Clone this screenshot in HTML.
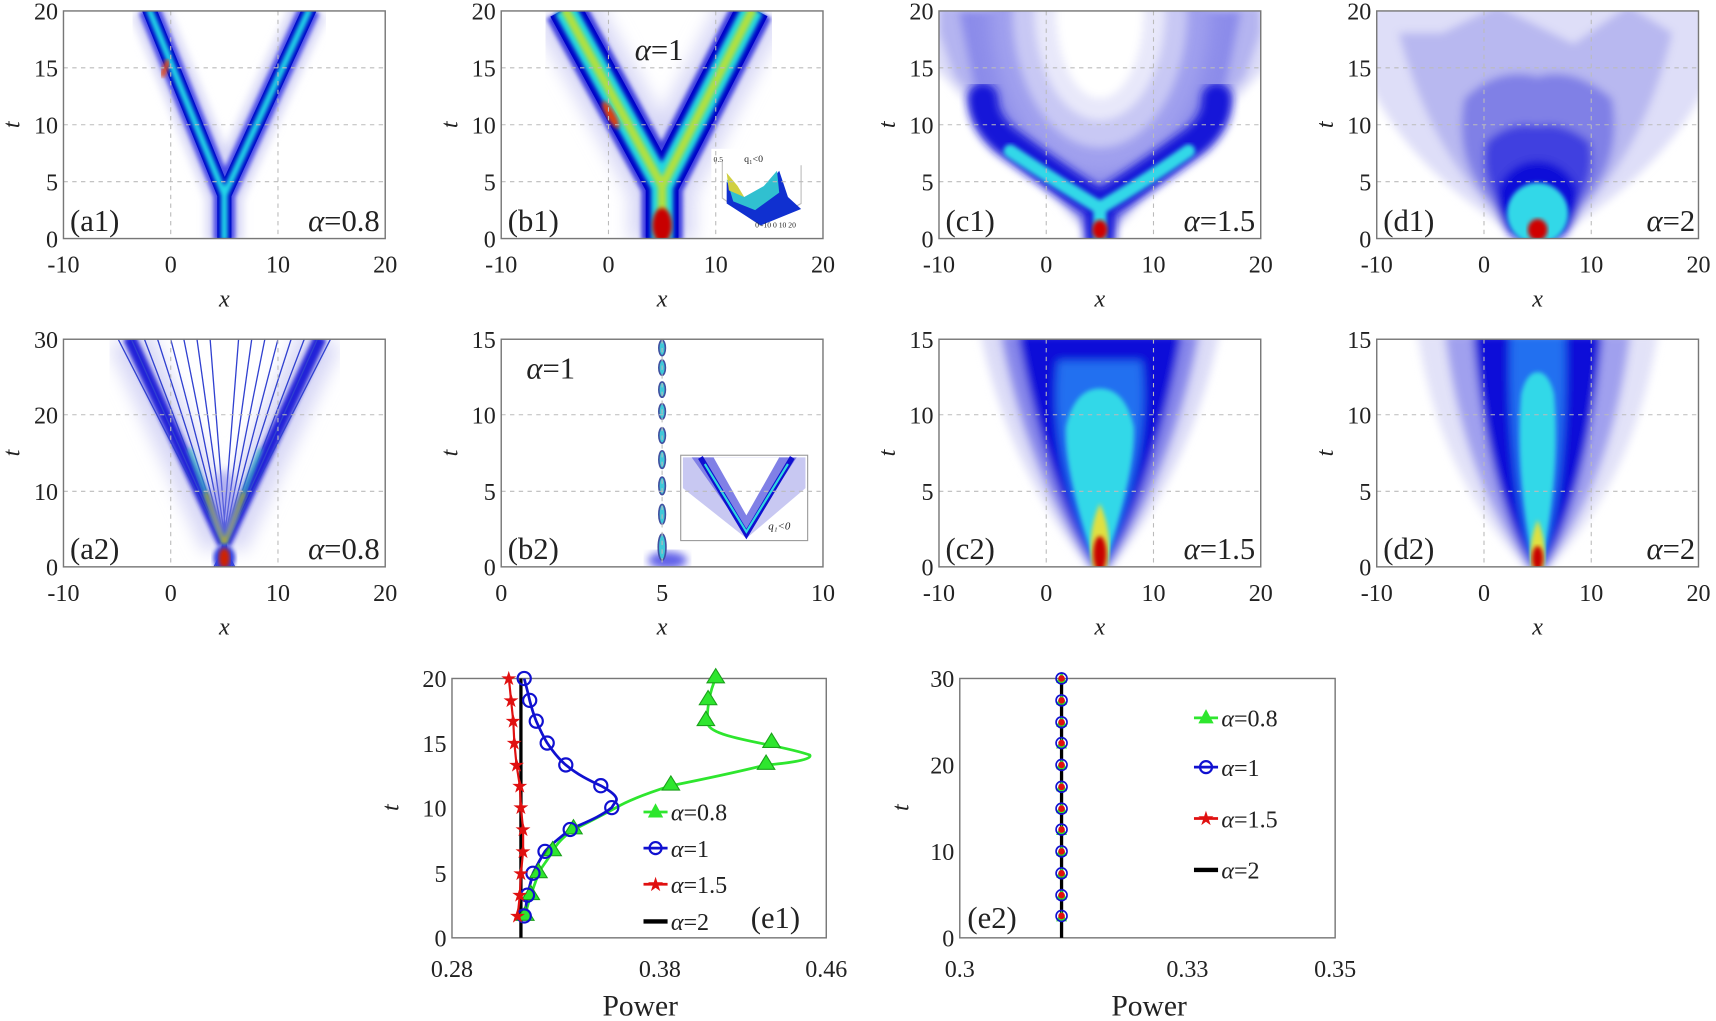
<!DOCTYPE html>
<html><head><meta charset="utf-8"><style>
html,body{margin:0;padding:0;background:#fff;}
svg{display:block;font-family:"Liberation Serif","DejaVu Serif",serif;}
svg text{font-family:"Liberation Serif","DejaVu Serif",serif;}
.tk{font-size:22px;}
.lab{font-size:28px;}
.it{font-style:italic;}
</style></head><body>
<svg width="1716" height="1021" viewBox="0 0 1568 933" preserveAspectRatio="none" xmlns="http://www.w3.org/2000/svg" font-family="Liberation Serif, DejaVu Serif, serif" fill="#222">
<defs>
<clipPath id="cp"><rect x="0" y="0" width="294" height="208"/></clipPath>
<clipPath id="ce"><rect x="0" y="0" width="342" height="237"/></clipPath>
<filter id="b2"><feGaussianBlur stdDeviation="2"/></filter>
<filter id="b4"><feGaussianBlur stdDeviation="4"/></filter>
<filter id="b8"><feGaussianBlur stdDeviation="8"/></filter>
</defs>

<g transform="translate(58,10)">
 <g clip-path="url(#cp)">
  <g fill="none" stroke-linejoin="round">
   <path d="M147,210 L147,168 L78,-2 M147,168 L225,-2" stroke="#d8d8f6" stroke-width="34" filter="url(#b4)"/>
   <path d="M147,210 L147,168 L78,-2 M147,168 L225,-2" stroke="#5050e8" stroke-width="20" filter="url(#b2)"/>
   <path d="M147,210 L147,168 L78,-2 M147,168 L225,-2" stroke="#0000c8" stroke-width="13"/>
   <path d="M147,210 L147,168 L78,-2 M147,168 L225,-2" stroke="#20d8e8" stroke-width="6" filter="url(#b2)"/>
   <path d="M147,210 L147,185" stroke="#e0e040" stroke-width="6" filter="url(#b2)"/>
   <path d="M96,45 L90,60" stroke="#e05020" stroke-width="5" filter="url(#b2)"/>
  </g>
 </g>
</g>

<g transform="translate(458,10)">
 <g clip-path="url(#cp)">
  <g fill="none" stroke-linejoin="round">
   <path d="M147,210 L147,160 L58,-2 M147,160 L230,-2" stroke="#d8d8f6" stroke-width="60" filter="url(#b8)"/>
   <path d="M147,210 L147,160 L58,-2 M147,160 L230,-2" stroke="#4040e0" stroke-width="38" filter="url(#b2)"/>
   <path d="M147,210 L147,160 L58,-2 M147,160 L230,-2" stroke="#0000c8" stroke-width="30"/>
   <path d="M147,210 L147,160 L58,-2 M147,160 L230,-2" stroke="#20d8e0" stroke-width="20" filter="url(#b2)"/>
   <path d="M147,210 L147,160 L58,-2 M147,160 L230,-2" stroke="#b0e040" stroke-width="8" filter="url(#b2)"/>
  </g>
  <ellipse cx="147" cy="196" rx="9" ry="16" fill="#c80000" filter="url(#b2)"/>
  <ellipse cx="100" cy="95" rx="4" ry="14" fill="#e04010" transform="rotate(-30 100 95)" filter="url(#b2)"/>
 </g>
 <g transform="translate(192,126)">
  <rect x="0" y="0" width="90" height="74" fill="#fff"/>
  <polyline points="10,12 10,45 45,70 82,50 82,15" fill="none" stroke="#bbb"/>
  <polygon points="14,30 30,48 48,38 62,20 70,44 82,55 45,70 14,50" fill="#1030d0"/>
  <polygon points="14,28 30,44 48,34 60,20 62,40 40,56 20,48" fill="#30c0d0"/>
  <polygon points="14,22 24,34 30,44 16,38" fill="#d0d040"/>
  <text x="30" y="12" style="font-size:9px">q₁&lt;0</text>
  <text x="2" y="12" style="font-size:7px">0.5</text>
  <text x="40" y="72" style="font-size:7px">0 -10  0  10  20</text>
 </g>
</g>

<g transform="translate(858,10)">
 <g clip-path="url(#cp)">
  <g filter="url(#b4)">
  <polygon points="140,210 154,210 300,50 300,-5 -5,-5 -5,50" fill="#dcdcf7"/>
  <polygon points="140,205 154,205 280,60 294,20 294,-5 0,-5 0,20 14,60" fill="#b4b4f0"/>
  <polygon points="140,205 154,205 262,70 276,0 18,0 32,70" fill="#8c8cea"/>
  </g>
  <ellipse cx="147" cy="0" rx="100" ry="150" fill="#a0a0ee" filter="url(#b8)"/>
  <ellipse cx="147" cy="0" rx="80" ry="125" fill="#c8c8f4" filter="url(#b4)"/>
  <ellipse cx="147" cy="0" rx="60" ry="100" fill="#e8e8fa" filter="url(#b4)"/>
  <ellipse cx="147" cy="0" rx="40" ry="80" fill="#ffffff" filter="url(#b4)"/>
  <g fill="none" stroke-linecap="round" stroke-linejoin="round">
   <path d="M147,210 L147,178 Q110,155 60,118 Q40,100 40,80 M147,178 Q185,155 235,118 Q255,100 254,80" stroke="#1818d8" stroke-width="28" filter="url(#b4)"/>
   <path d="M147,210 L147,180 Q110,158 65,128 M147,180 Q185,158 228,128" stroke="#30d8e8" stroke-width="12" filter="url(#b2)"/>
  </g>
  <ellipse cx="147" cy="200" rx="7" ry="9" fill="#d00000" filter="url(#b2)"/>
 </g>
</g>

<g transform="translate(1258,10)">
 <g clip-path="url(#cp)">
  <g filter="url(#b4)">
  <path d="M140,212 L154,212 Q260,150 300,70 L300,-5 L-5,-5 L-5,70 Q34,150 140,212Z" fill="#dedef8"/>
  <path d="M140,212 L154,212 Q240,150 270,20 L230,-5 L180,30 L110,-5 L60,20 L20,20 Q54,150 140,212Z" fill="#b8b8f0"/>
  <path d="M147,210 Q230,160 215,80 Q180,50 147,60 Q110,50 80,80 Q64,160 147,210Z" fill="#8080e6"/>
  <path d="M147,210 Q205,170 195,120 Q170,100 147,105 Q120,100 100,120 Q90,170 147,210Z" fill="#4040e0"/>
  <ellipse cx="147" cy="175" rx="38" ry="38" fill="#1010d8"/>
  </g>
  <ellipse cx="147" cy="185" rx="28" ry="28" fill="#30d8e8" filter="url(#b2)"/>
  <ellipse cx="147" cy="200" rx="9" ry="10" fill="#d00000" filter="url(#b2)"/>
 </g>
</g>

<g transform="translate(58,310)">
 <g clip-path="url(#cp)">
  <g fill="none" stroke-linejoin="round">
   <path d="M147,187 L60,-2 M147,187 L235,-2" stroke="#d8d8f6" stroke-width="40" filter="url(#b8)"/>
   <path d="M147,187 L60,-2 M147,187 L235,-2" stroke="#2020d8" stroke-width="12" filter="url(#b2)"/>
   <g stroke="#3040d0" stroke-width="1.2">
    <path d="M160,215 L50,0"/><path d="M158,215 L62,0"/><path d="M156,215 L74,0"/><path d="M155,215 L86,0"/><path d="M154,215 L98,0"/><path d="M153,215 L110,0"/><path d="M152,215 L122,0"/><path d="M151,215 L134,0"/>
    <path d="M134,215 L244,0"/><path d="M136,215 L232,0"/><path d="M138,215 L220,0"/><path d="M139,215 L208,0"/><path d="M140,215 L196,0"/><path d="M141,215 L184,0"/><path d="M142,215 L172,0"/><path d="M143,215 L160,0"/>
   </g>
   <path d="M147,187 L115,100 M147,187 L180,100" stroke="#30c0c0" stroke-width="3" filter="url(#b2)"/>
   <path d="M147,187 L130,140 M147,187 L165,140" stroke="#c0a020" stroke-width="3" filter="url(#b2)"/>
  </g>
  <ellipse cx="147" cy="150" rx="12" ry="30" fill="#8080e8" opacity="0.5" filter="url(#b4)"/>
  <ellipse cx="147" cy="200" rx="10" ry="12" fill="#3040e0" filter="url(#b2)"/>
  <ellipse cx="147" cy="200" rx="5" ry="9" fill="#d02000" filter="url(#b2)"/>
 </g>
</g>

<g transform="translate(458,310)">
 <g clip-path="url(#cp)">
  <ellipse cx="152" cy="202" rx="18" ry="8" fill="#6060e8" filter="url(#b4)"/>
  <g fill="#40c8d8" stroke="#4050a0" stroke-width="1.5">
   <ellipse cx="147" cy="190" rx="3.5" ry="12"/>
   <ellipse cx="147" cy="160" rx="3" ry="9"/>
   <ellipse cx="147" cy="134" rx="3" ry="8"/>
   <ellipse cx="147" cy="110" rx="3" ry="8"/>
   <ellipse cx="147" cy="88" rx="3" ry="7"/>
   <ellipse cx="147" cy="66" rx="3" ry="7"/>
   <ellipse cx="147" cy="46" rx="3" ry="7"/>
   <ellipse cx="147" cy="26" rx="3" ry="7"/>
   <ellipse cx="147" cy="8" rx="3" ry="7"/>
  </g>
 </g>
 <g transform="translate(164,106)">
  <rect x="0" y="0" width="116" height="78" fill="#fff" stroke="#999"/>
  <polygon points="2,2 114,2 114,30 60,76 2,30" fill="#c8c8f2"/>
  <polygon points="10,2 106,2 60,72" fill="#8080e6"/>
  <path d="M18,2 L60,72 L102,2" fill="none" stroke="#1010d0" stroke-width="5"/>
  <path d="M22,8 L60,70 L98,8" fill="none" stroke="#30d8e0" stroke-width="2"/>
  <polygon points="30,2 90,2 60,55" fill="#ffffff"/>
  <text x="80" y="68" style="font-size:10px" class="it">q₁&lt;0</text>
 </g>
</g>

<g transform="translate(858,310)">
 <g clip-path="url(#cp)">
  <g filter="url(#b4)">
   <path d="M138,210 L156,210 Q230,120 256,-5 L38,-5 Q64,120 138,210Z" fill="#dcdcf7"/>
   <path d="M140,210 L154,210 Q215,120 238,-5 L56,-5 Q79,120 140,210Z" fill="#8888ea"/>
   <path d="M141,210 L153,210 Q200,120 222,-5 L72,-5 Q94,120 141,210Z" fill="#0808d8"/>
   <path d="M143,210 L151,210 Q195,100 185,20 L109,20 Q99,100 143,210Z" fill="#2070f0"/>
  </g>
  <path d="M144,210 L150,210 Q180,120 178,80 Q170,45 147,45 Q124,45 116,80 Q114,120 144,210Z" fill="#30d8e8" filter="url(#b2)"/>
  <path d="M147,150 Q160,180 153,210 L141,210 Q134,180 147,150Z" fill="#e0e040" filter="url(#b2)"/>
  <ellipse cx="147" cy="196" rx="6" ry="16" fill="#c80000" filter="url(#b2)"/>
 </g>
</g>

<g transform="translate(1258,310)">
 <g clip-path="url(#cp)">
  <g filter="url(#b4)">
   <path d="M138,210 L156,210 Q235,130 257,-5 L37,-5 Q59,130 138,210Z" fill="#e2e2f8"/>
   <path d="M140,210 L154,210 Q215,130 232,-5 L62,-5 Q79,130 140,210Z" fill="#a0a0ee"/>
   <path d="M141,210 L153,210 Q195,130 206,-5 L88,-5 Q99,130 141,210Z" fill="#0a10d8"/>
   <path d="M143,210 L151,210 Q175,120 172,-5 L122,-5 Q119,120 143,210Z" fill="#2070f0"/>
  </g>
  <path d="M144,210 L150,210 Q168,120 162,50 Q157,30 147,30 Q137,30 132,50 Q126,120 144,210Z" fill="#30d8e8" filter="url(#b2)"/>
  <path d="M147,165 Q157,190 152,210 L142,210 Q137,190 147,165Z" fill="#e0e040" filter="url(#b2)"/>
  <ellipse cx="147" cy="200" rx="5" ry="11" fill="#c80000" filter="url(#b2)"/>
 </g>
</g>

<g fill="none" stroke="#bbb" stroke-width="1" stroke-dasharray="4,4">
 <path d="M156,10V218M254,10V218M58,62H352M58,114H352M58,166H352"/>
 <path d="M556,10V218M654,10V218M458,62H752M458,114H752M458,166H752"/>
 <path d="M956,10V218M1054,10V218M858,62H1152M858,114H1152M858,166H1152"/>
 <path d="M1356,10V218M1454,10V218M1258,62H1552M1258,114H1552M1258,166H1552"/>
 <path d="M156,310V518M254,310V518M58,379H352M58,449H352"/>
 <path d="M605,310V518M458,379H752M458,449H752"/>
 <path d="M956,310V518M1054,310V518M858,379H1152M858,449H1152"/>
 <path d="M1356,310V518M1454,310V518M1258,379H1552M1258,449H1552"/>
</g>
<g fill="none" stroke="#777" stroke-width="1.3">
 <rect x="58" y="10" width="294" height="208"/><rect x="458" y="10" width="294" height="208"/>
 <rect x="858" y="10" width="294" height="208"/><rect x="1258" y="10" width="294" height="208"/>
 <rect x="58" y="310" width="294" height="208"/><rect x="458" y="310" width="294" height="208"/>
 <rect x="858" y="310" width="294" height="208"/><rect x="1258" y="310" width="294" height="208"/>
 <rect x="413" y="620" width="342" height="237"/><rect x="877" y="620" width="343" height="237"/>
</g>

<g class="tk" text-anchor="middle">
 <text x="58" y="249">-10</text><text x="156" y="249">0</text><text x="254" y="249">10</text><text x="352" y="249">20</text>
 <text x="458" y="249">-10</text><text x="556" y="249">0</text><text x="654" y="249">10</text><text x="752" y="249">20</text>
 <text x="858" y="249">-10</text><text x="956" y="249">0</text><text x="1054" y="249">10</text><text x="1152" y="249">20</text>
 <text x="1258" y="249">-10</text><text x="1356" y="249">0</text><text x="1454" y="249">10</text><text x="1552" y="249">20</text>
 <text x="58" y="549">-10</text><text x="156" y="549">0</text><text x="254" y="549">10</text><text x="352" y="549">20</text>
 <text x="458" y="549">0</text><text x="605" y="549">5</text><text x="752" y="549">10</text>
 <text x="858" y="549">-10</text><text x="956" y="549">0</text><text x="1054" y="549">10</text><text x="1152" y="549">20</text>
 <text x="1258" y="549">-10</text><text x="1356" y="549">0</text><text x="1454" y="549">10</text><text x="1552" y="549">20</text>
 <text x="413" y="893">0.28</text><text x="603" y="893">0.38</text><text x="755" y="893">0.46</text>
 <text x="877" y="893">0.3</text><text x="1085" y="893">0.33</text><text x="1220" y="893">0.35</text>
</g>
<g class="tk it" text-anchor="middle">
 <text x="205" y="280">x</text><text x="605" y="280">x</text><text x="1005" y="280">x</text><text x="1405" y="280">x</text>
 <text x="205" y="580">x</text><text x="605" y="580">x</text><text x="1005" y="580">x</text><text x="1405" y="580">x</text>
</g>
<g class="tk" text-anchor="middle" style="font-size:27px">
 <text x="585" y="928">Power</text><text x="1050" y="928">Power</text>
</g>
<g class="tk" text-anchor="end">
 <text x="53" y="18">20</text><text x="53" y="70">15</text><text x="53" y="122">10</text><text x="53" y="174">5</text><text x="53" y="226">0</text>
 <text x="453" y="18">20</text><text x="453" y="70">15</text><text x="453" y="122">10</text><text x="453" y="174">5</text><text x="453" y="226">0</text>
 <text x="853" y="18">20</text><text x="853" y="70">15</text><text x="853" y="122">10</text><text x="853" y="174">5</text><text x="853" y="226">0</text>
 <text x="1253" y="18">20</text><text x="1253" y="70">15</text><text x="1253" y="122">10</text><text x="1253" y="174">5</text><text x="1253" y="226">0</text>
 <text x="53" y="318">30</text><text x="53" y="387">20</text><text x="53" y="457">10</text><text x="53" y="526">0</text>
 <text x="453" y="318">15</text><text x="453" y="387">10</text><text x="453" y="457">5</text><text x="453" y="526">0</text>
 <text x="853" y="318">15</text><text x="853" y="387">10</text><text x="853" y="457">5</text><text x="853" y="526">0</text>
 <text x="1253" y="318">15</text><text x="1253" y="387">10</text><text x="1253" y="457">5</text><text x="1253" y="526">0</text>
 <text x="408" y="628">20</text><text x="408" y="687">15</text><text x="408" y="746">10</text><text x="408" y="806">5</text><text x="408" y="865">0</text>
 <text x="872" y="628">30</text><text x="872" y="707">20</text><text x="872" y="786">10</text><text x="872" y="865">0</text>
</g>
<g class="tk it" text-anchor="middle">
 <text transform="translate(18,114) rotate(-90)">t</text><text transform="translate(418,114) rotate(-90)">t</text>
 <text transform="translate(818,114) rotate(-90)">t</text><text transform="translate(1218,114) rotate(-90)">t</text>
 <text transform="translate(18,414) rotate(-90)">t</text><text transform="translate(418,414) rotate(-90)">t</text>
 <text transform="translate(818,414) rotate(-90)">t</text><text transform="translate(1218,414) rotate(-90)">t</text>
 <text transform="translate(364,738) rotate(-90)">t</text><text transform="translate(830,738) rotate(-90)">t</text>
</g>

<g class="lab">
 <text x="64" y="211">(a1)</text><text x="464" y="211">(b1)</text><text x="864" y="211">(c1)</text><text x="1264" y="211">(d1)</text>
 <text x="64" y="511">(a2)</text><text x="464" y="511">(b2)</text><text x="864" y="511">(c2)</text><text x="1264" y="511">(d2)</text>
 <text x="686" y="848">(e1)</text><text x="884" y="848">(e2)</text>
</g>
<g class="lab" text-anchor="end">
 <text x="347" y="211"><tspan class="it">α</tspan>=0.8</text>
 <text x="1147" y="211"><tspan class="it">α</tspan>=1.5</text>
 <text x="1549" y="211"><tspan class="it">α</tspan>=2</text>
 <text x="347" y="511"><tspan class="it">α</tspan>=0.8</text>
 <text x="1147" y="511"><tspan class="it">α</tspan>=1.5</text>
 <text x="1549" y="511"><tspan class="it">α</tspan>=2</text>
</g>
<g class="lab">
 <text x="580" y="55"><tspan class="it">α</tspan>=1</text>
 <text x="481" y="346"><tspan class="it">α</tspan>=1</text>
</g>

<g transform="translate(413,620)">
 <g clip-path="url(#ce)">
 <path d="M63,0V237" stroke="#000" stroke-width="3"/>
 <path d="M241,0 C236,10 232,30 234,42 C238,55 300,60 327,70 C330,75 300,78 287,79 C250,88 215,95 200,98 C175,106 160,112 150,118 C135,126 120,134 111,138 C100,146 95,152 92,158 C86,168 82,172 79,178 C75,190 73,195 72,198 C69,208 67,215 67,217" fill="none" stroke="#2ee62e" stroke-width="2.5"/>
 <path d="M66,0 C68,8 70,15 71,20 C73,28 75,34 77,39 C81,48 84,54 87,59 C93,68 98,74 104,79 C115,88 125,93 136,98 C145,103 152,108 150,112 C147,116 146,118 146,118 C135,127 118,133 108,138 C98,146 90,152 85,158 C80,166 77,172 74,178 C72,186 70,193 69,198 C68,206 67,212 66,217" fill="none" stroke="#1010d0" stroke-width="2.5"/>
 <path d="M52,0 L54,20 L56,39 L57,59 L59,79 L62,98 L63,118 L65,138 L65,158 L63,178 L62,198 L60,217" fill="none" stroke="#e01010" stroke-width="2"/>
 </g>
 <g fill="#2ee62e" stroke="#1aa01a" stroke-width="1">
  <polygon points="241,-9 233,4 249,4"/><polygon points="234,11 226,24 242,24"/><polygon points="232,30 224,43 240,43"/>
  <polygon points="292,50 284,63 300,63"/><polygon points="287,70 279,83 295,83"/><polygon points="200,89 192,102 208,102"/>
  <polygon points="111,129 103,142 119,142"/><polygon points="92,149 84,162 100,162"/><polygon points="79,169 71,182 87,182"/>
  <polygon points="72,189 64,202 80,202"/><polygon points="67,208 59,221 75,221"/>
 </g>
 <g fill="none" stroke="#1010d0" stroke-width="2">
  <circle cx="66" cy="0" r="6"/><circle cx="71" cy="20" r="6"/><circle cx="77" cy="39" r="6"/><circle cx="87" cy="59" r="6"/>
  <circle cx="104" cy="79" r="6"/><circle cx="136" cy="98" r="6"/><circle cx="146" cy="118" r="6"/><circle cx="108" cy="138" r="6"/>
  <circle cx="85" cy="158" r="6"/><circle cx="74" cy="178" r="6"/><circle cx="69" cy="198" r="6"/><circle cx="66" cy="217" r="6"/>
 </g>
 <g font-size="18" text-anchor="middle" style="font-family:'DejaVu Sans',sans-serif;fill:#e01010">
  <text x="52" y="6" style="fill:#e01010">★</text><text x="54" y="26" style="fill:#e01010">★</text><text x="56" y="45" style="fill:#e01010">★</text>
  <text x="57" y="65" style="fill:#e01010">★</text><text x="59" y="85" style="fill:#e01010">★</text><text x="62" y="104" style="fill:#e01010">★</text>
  <text x="63" y="124" style="fill:#e01010">★</text><text x="65" y="144" style="fill:#e01010">★</text><text x="65" y="164" style="fill:#e01010">★</text>
  <text x="63" y="184" style="fill:#e01010">★</text><text x="62" y="204" style="fill:#e01010">★</text><text x="60" y="223" style="fill:#e01010">★</text>
 </g>
 <g>
  <path d="M175,122H197" stroke="#2ee62e" stroke-width="2.5"/><polygon points="186,114 179,127 193,127" fill="#2ee62e"/>
  <path d="M175,155H197" stroke="#1010d0" stroke-width="2.5"/><circle cx="186" cy="155" r="5.5" fill="none" stroke="#1010d0" stroke-width="2"/>
  <path d="M175,188H197" stroke="#e01010" stroke-width="2.5"/><text x="186" y="194" font-size="18" text-anchor="middle" style="font-family:'DejaVu Sans',sans-serif;fill:#e01010">★</text>
  <path d="M175,222H197" stroke="#000" stroke-width="4"/>
 </g>
 <g class="tk">
  <text x="200" y="130"><tspan class="it">α</tspan>=0.8</text>
  <text x="200" y="163"><tspan class="it">α</tspan>=1</text>
  <text x="200" y="196"><tspan class="it">α</tspan>=1.5</text>
  <text x="200" y="230"><tspan class="it">α</tspan>=2</text>
 </g>
</g>

<g transform="translate(877,620)">
 <path d="M93,0V237" stroke="#000" stroke-width="3"/>
 <g stroke-width="1.5">
  <g fill="#2ee62e"><polygon points="93,-6 88,4 98,4"/><polygon points="93,14 88,24 98,24"/><polygon points="93,34 88,44 98,44"/><polygon points="93,54 88,64 98,64"/><polygon points="93,73 88,83 98,83"/><polygon points="93,93 88,103 98,103"/><polygon points="93,113 88,123 98,123"/><polygon points="93,133 88,143 98,143"/><polygon points="93,152 88,162 98,162"/><polygon points="93,172 88,182 98,182"/><polygon points="93,192 88,202 98,202"/><polygon points="93,212 88,222 98,222"/></g>
  <g fill="none" stroke="#1010d0"><circle cx="93" cy="0" r="5"/><circle cx="93" cy="20" r="5"/><circle cx="93" cy="40" r="5"/><circle cx="93" cy="59" r="5"/><circle cx="93" cy="79" r="5"/><circle cx="93" cy="99" r="5"/><circle cx="93" cy="119" r="5"/><circle cx="93" cy="138" r="5"/><circle cx="93" cy="158" r="5"/><circle cx="93" cy="178" r="5"/><circle cx="93" cy="198" r="5"/><circle cx="93" cy="217" r="5"/></g>
  <g fill="#e01010"><circle cx="93" cy="0" r="3"/><circle cx="93" cy="20" r="3"/><circle cx="93" cy="40" r="3"/><circle cx="93" cy="59" r="3"/><circle cx="93" cy="79" r="3"/><circle cx="93" cy="99" r="3"/><circle cx="93" cy="119" r="3"/><circle cx="93" cy="138" r="3"/><circle cx="93" cy="158" r="3"/><circle cx="93" cy="178" r="3"/><circle cx="93" cy="198" r="3"/><circle cx="93" cy="217" r="3"/></g>
 </g>
 <g>
  <path d="M214,36H236" stroke="#2ee62e" stroke-width="2.5"/><polygon points="225,28 218,41 232,41" fill="#2ee62e"/>
  <path d="M214,81H236" stroke="#1010d0" stroke-width="2.5"/><circle cx="225" cy="81" r="5.5" fill="none" stroke="#1010d0" stroke-width="2"/>
  <path d="M214,128H236" stroke="#e01010" stroke-width="2.5"/><text x="225" y="134" font-size="18" text-anchor="middle" style="font-family:'DejaVu Sans',sans-serif;fill:#e01010">★</text>
  <path d="M214,175H236" stroke="#000" stroke-width="4"/>
 </g>
 <g class="tk">
  <text x="239" y="44"><tspan class="it">α</tspan>=0.8</text>
  <text x="239" y="89"><tspan class="it">α</tspan>=1</text>
  <text x="239" y="136"><tspan class="it">α</tspan>=1.5</text>
  <text x="239" y="183"><tspan class="it">α</tspan>=2</text>
 </g>
</g>
</svg>
</body></html>
